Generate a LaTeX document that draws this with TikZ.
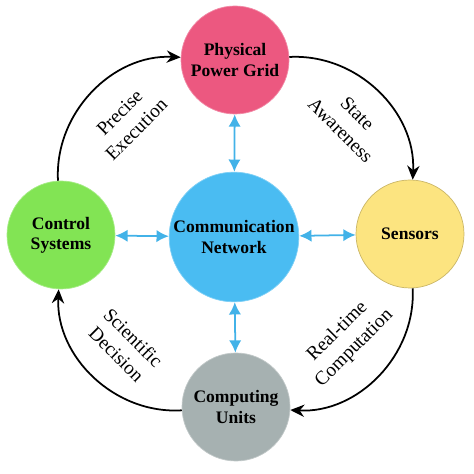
\documentclass[tikz,border=0pt]{standalone}
\usepackage{fontspec}
\setmainfont{Liberation Serif}
\usepackage{tikz}
\usetikzlibrary{arrows.meta,calc}
\definecolor{cps_pink}{RGB}{236, 88, 128}
\definecolor{cps_green}{RGB}{130, 228, 84}
\definecolor{cps_blue}{RGB}{74, 188, 242}
\definecolor{cps_yellow}{RGB}{252, 228, 128}
\definecolor{cps_grey}{RGB}{166, 177, 177}
\definecolor{cps_arrow}{RGB}{66, 178, 232}
\tikzstyle{cn}=[circle,draw=white!70!black,line width=0.4pt,inner sep=1pt,
  minimum size=2.16cm,align=center,font=\fontsize{10}{11.5}\selectfont\bfseries]
\tikzstyle{pinkn}=[cn,fill=cps_pink,draw=cps_pink!70!white]
\tikzstyle{greenn}=[cn,fill=cps_green,draw=cps_green!70!white]
\tikzstyle{bluen}=[cn,fill=cps_blue,draw=cps_blue!70!white,minimum size=2.56cm]
\tikzstyle{yellown}=[cn,fill=cps_yellow,draw=cps_yellow!80!black]
\tikzstyle{greyn}=[cn,fill=cps_grey,draw=cps_grey!70!white]
\tikzstyle{lbl}=[align=center,font=\fontsize{11}{13.5}\selectfont]
\tikzstyle{flow}=[line width=1pt,-{Stealth[length=8pt,width=7pt]},bend left=48]
\tikzstyle{bidir}=[line width=1pt,cps_arrow,{Latex[length=7pt,width=7pt]}-{Latex[length=7pt,width=7pt]}]

\begin{document}
\begin{tikzpicture}
        \useasboundingbox (-4.68,-4.74) rectangle (4.80,4.74);
        \node[style=bluen] (comm) at (0,0) {Communication\\Network};
        \node[style=pinkn] (grid) at (0.02,3.54) {Physical\\Power Grid};
        \node[style=greenn] (ctrl) at (-3.46,0.04) {Control\\Systems};
        \node[style=yellown] (sens) at (3.52,0.06) {Sensors};
        \node[style=greyn] (comp) at (0.04,-3.40) {Computing\\Units};
        \draw[bidir] (comm) to (grid);
        \draw[bidir] (comm) to (ctrl);
        \draw[bidir] (comm) to (sens);
        \draw[bidir] (comm) to (comp);
        \draw[flow] (ctrl) to (grid);
        \draw[flow] (grid) to (sens);
        \draw[flow] (sens) to (comp);
        \draw[flow] (comp) to (ctrl);
        \node[style=lbl,rotate=45] (exec) at (-2.12,2.32) {Precise\\Execution};
        \node[style=lbl,rotate=-45] (aware) at (2.30,2.30) {State\\Awareness};
        \node[style=lbl,rotate=-45] (decide) at (-2.18,-2.18) {Scientific\\Decision};
        \node[style=lbl,rotate=45] (compute) at (2.24,-2.06) {Real-time\\Computation};
    \end{tikzpicture}
\end{document}
